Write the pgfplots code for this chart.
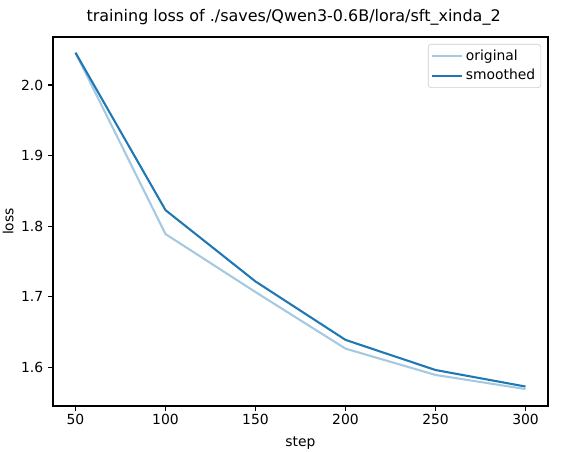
\documentclass[border=0pt]{standalone}
\usepackage{fontspec}
\setmainfont{DejaVu Sans}
\usepackage{pgfplots}
\pgfplotsset{compat=1.18}
\definecolor{smoothcol}{HTML}{1F77B4}
\definecolor{origcol}{RGB}{165,201,225}
\begin{document}
\begin{tikzpicture}
\useasboundingbox (-38.16pt,-32.4pt) rectangle (382.32pt,292.32pt);
\begin{axis}[
  at={(0,0)}, anchor=south west,
  scale only axis,
  width=356.4pt, height=265.7pt,
  xmin=37.5, xmax=312.5,
  ymin=1.545, ymax=2.068,
  xtick={50,100,150,200,250,300},
  ytick={1.6,1.7,1.8,1.9,2.0},
  yticklabel style={/pgf/number format/.cd,fixed,fixed zerofill,precision=1},
  /pgf/number format/assume math mode=true,
  tick align=outside,
  major tick length=3.5pt,
  tick style={black, line width=0.8pt},
  xtick pos=bottom, ytick pos=left,
  axis line style={line width=0.8pt},
  ticklabel style={font=\fontsize{10}{12}\selectfont},
  xticklabel style={yshift=1pt},
  xlabel={step}, ylabel={loss},
  label style={font=\fontsize{10}{12}\selectfont},
  xlabel style={yshift=-2pt},
  ylabel style={yshift=-1.5pt},
  title={training loss of ./saves/Qwen3-0.6B/lora/sft\_xinda\_2},
  title style={font=\fontsize{11.5}{14}\selectfont, at={(0.5,1)}, anchor=base, yshift=5pt, xshift=-5pt, inner sep=0pt},
  legend style={at={(0.986,0.981)}, anchor=north east, draw=black!20, rounded corners=2pt, font=\fontsize{10}{12}\selectfont, inner sep=2pt, row sep=1pt},
  legend cell align=left,
  legend image code/.code={\draw[#1] (0pt,0pt) -- (21.6pt,0pt);},
]
\addplot[origcol, line width=1.5pt] coordinates {
(50,2.0457) (100,1.7887) (150,1.7065) (200,1.6263) (250,1.5890) (300,1.5690)};
\addlegendentry{original}
\addplot[smoothcol, line width=1.5pt] coordinates {
(50,2.0457) (100,1.8226) (150,1.7215) (200,1.6387) (250,1.5960) (300,1.5726)};
\addlegendentry{smoothed}
\end{axis}
\end{tikzpicture}
\end{document}
